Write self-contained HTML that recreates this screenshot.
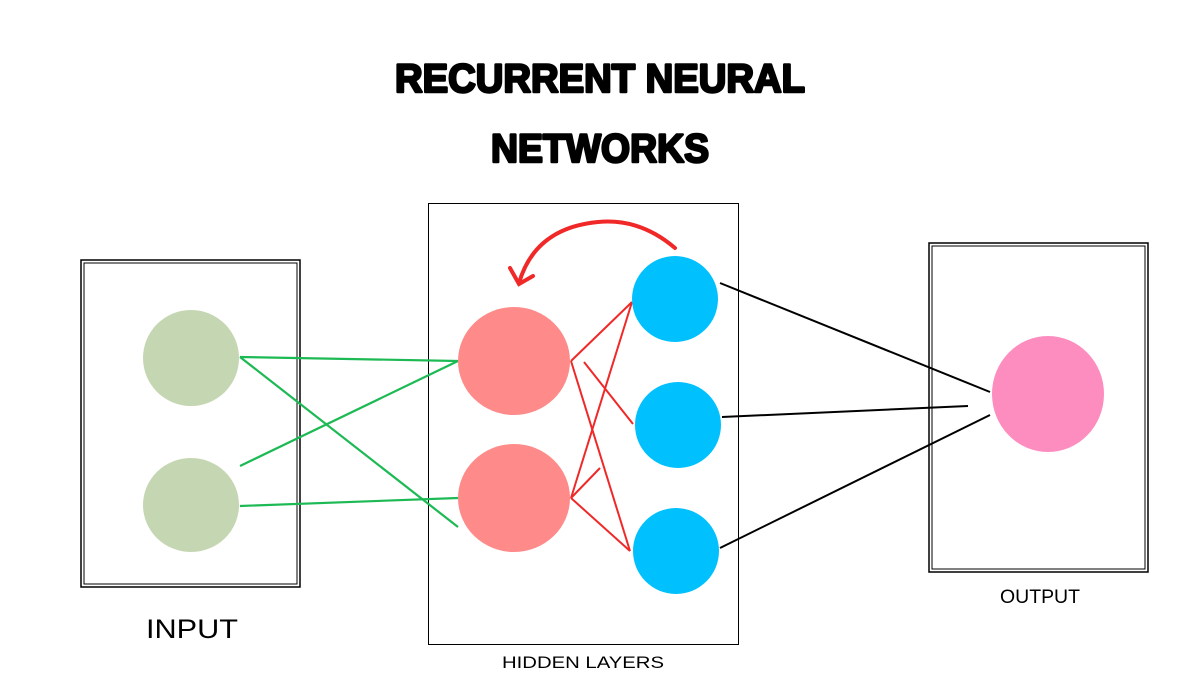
<!DOCTYPE html>
<html><head><style>body{margin:0;background:#fff}svg{display:block}</style></head>
<body>
<svg width="1200" height="675" viewBox="0 0 1200 675" xmlns="http://www.w3.org/2000/svg">
<rect width="1200" height="675" fill="#fff"/>
<g font-family="Liberation Sans, sans-serif" font-weight="bold" fill="#000" stroke="#000" stroke-width="2.5" stroke-linejoin="round" text-anchor="middle">
<text x="600" y="92" font-size="40" textLength="410" lengthAdjust="spacingAndGlyphs">RECURRENT NEURAL</text>
<text x="600" y="162" font-size="40" textLength="218" lengthAdjust="spacingAndGlyphs">NETWORKS</text>
</g>
<!-- boxes -->
<rect x="81" y="260" width="219" height="327" fill="none" stroke="#000" stroke-width="1.5"/>
<rect x="84" y="263" width="213" height="321" fill="none" stroke="#000" stroke-width="1"/>
<rect x="428.5" y="203.5" width="310" height="441" fill="none" stroke="#000" stroke-width="1"/>
<rect x="929" y="243" width="219" height="329" fill="none" stroke="#000" stroke-width="1.5"/>
<rect x="932" y="246" width="213" height="323" fill="none" stroke="#000" stroke-width="1"/>
<!-- green lines -->
<g stroke="#1db954" stroke-width="2.2" fill="none">
<line x1="240" y1="357" x2="458" y2="361"/>
<line x1="240" y1="357" x2="458" y2="527"/>
<line x1="240" y1="466" x2="458" y2="361"/>
<line x1="240" y1="506" x2="458" y2="498"/>
</g>
<!-- red lines -->
<g stroke="#f02828" stroke-width="2" fill="none">
<line x1="571" y1="361" x2="632" y2="302"/>
<line x1="571" y1="361" x2="630" y2="551"/>
<line x1="584" y1="362" x2="633" y2="424"/>
<line x1="571" y1="498" x2="632" y2="302"/>
<line x1="571" y1="498" x2="600" y2="468"/>
<line x1="571" y1="498" x2="630" y2="551"/>
</g>
<!-- black lines -->
<g stroke="#000" stroke-width="2" fill="none">
<line x1="720" y1="283" x2="990" y2="392"/>
<line x1="722" y1="417" x2="968" y2="406"/>
<line x1="720" y1="548" x2="990" y2="415"/>
</g>
<!-- circles -->
<g fill="#c5d6b2">
<ellipse cx="191" cy="358" rx="48" ry="48"/>
<ellipse cx="191" cy="505" rx="48" ry="47"/>
</g>
<g fill="#fe8a89">
<ellipse cx="514" cy="361" rx="56" ry="54"/>
<ellipse cx="514" cy="498" rx="56" ry="54"/>
</g>
<g fill="#00c1fd">
<ellipse cx="675" cy="299" rx="43" ry="43"/>
<ellipse cx="678" cy="425" rx="43" ry="43"/>
<ellipse cx="676" cy="551" rx="43" ry="43"/>
</g>
<ellipse cx="1048" cy="394" rx="56" ry="58" fill="#fe8dbf"/>
<!-- recurrent arrow -->
<g stroke="#f02828" stroke-width="4" fill="none" stroke-linecap="round">
<path d="M675 248 Q640 218 598 222 Q535 228 519 283"/>
<path d="M510 268 L519 284 L533 276"/>
</g>
<!-- labels -->
<g font-family="Liberation Sans, sans-serif" fill="#000" text-anchor="middle">
<text x="192" y="638" font-size="27" textLength="92" lengthAdjust="spacingAndGlyphs">INPUT</text>
<text x="583" y="668" font-size="17" textLength="162" lengthAdjust="spacingAndGlyphs">HIDDEN LAYERS</text>
<text x="1040" y="603" font-size="19" textLength="80" lengthAdjust="spacingAndGlyphs">OUTPUT</text>
</g>
</svg>
</body></html>
